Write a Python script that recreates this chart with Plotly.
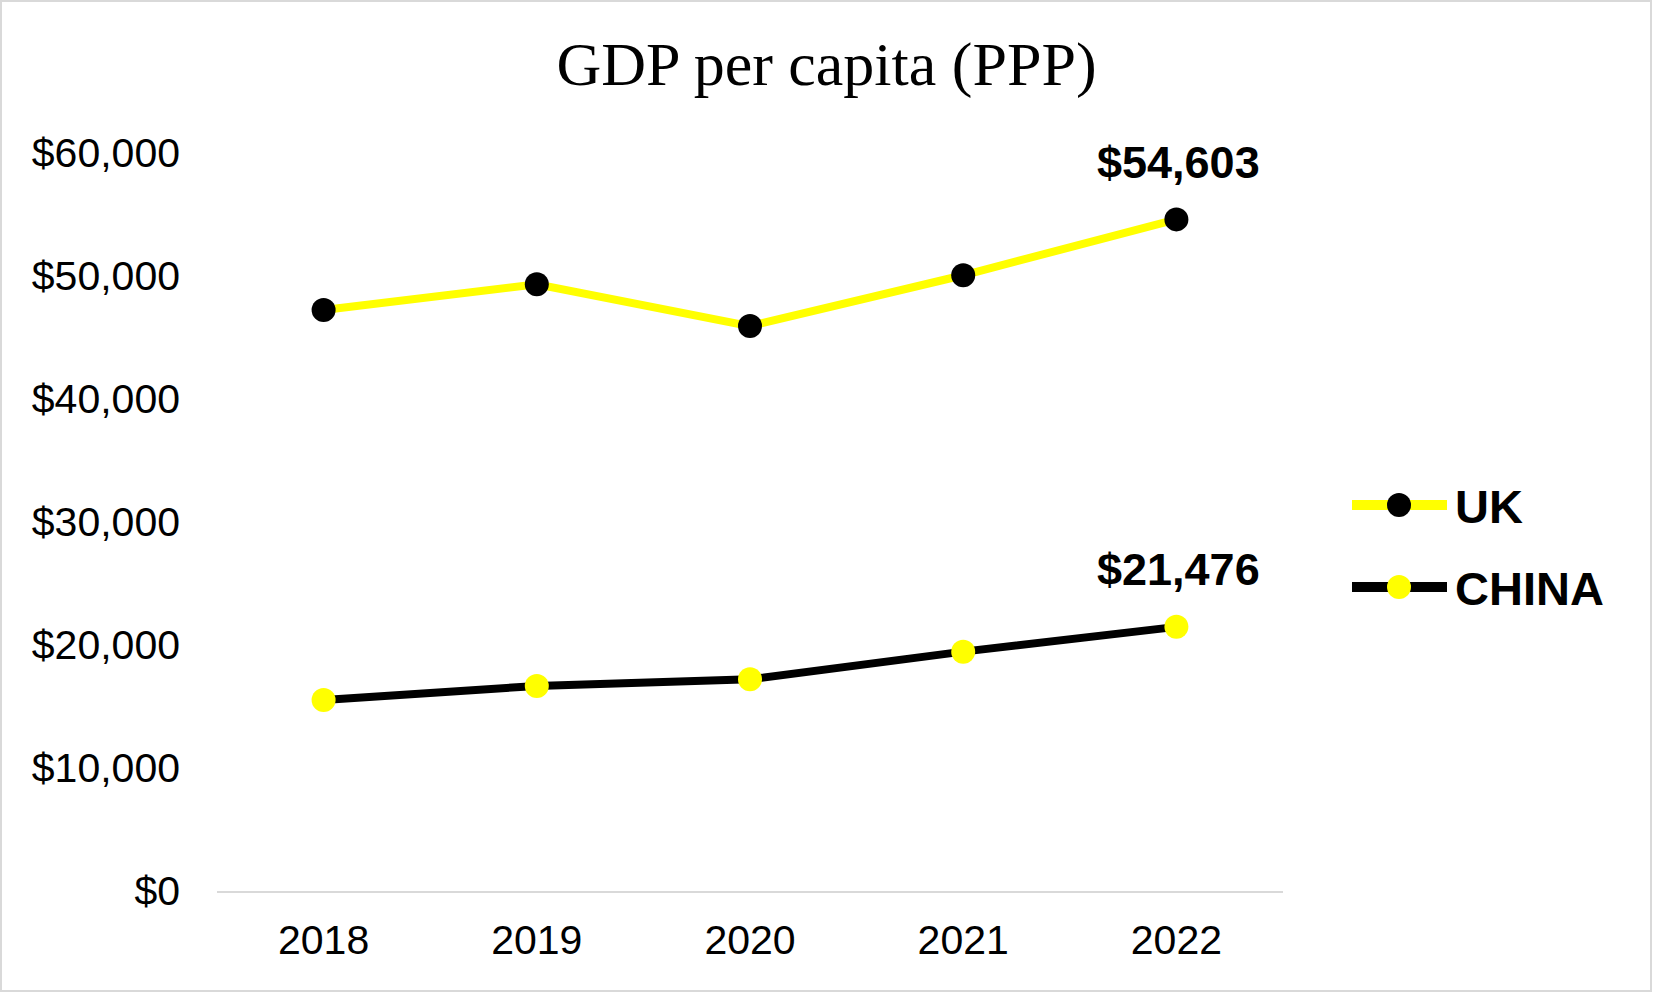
import plotly.graph_objects as go

# ---- data ----
years = ["2018", "2019", "2020", "2021", "2022"]
uk_values = [47240, 49330, 45930, 50060, 54603]
china_values = [15530, 16670, 17210, 19460, 21476]
series_names = ["UK", "CHINA"]
y_ticks = [0, 10000, 20000, 30000, 40000, 50000, 60000]
y_tick_labels = ["$0", "$10,000", "$20,000", "$30,000", "$40,000", "$50,000", "$60,000"]
title_text = "GDP per capita (PPP)"

W, H = 1653, 993
L, R, T, B = 217, 1283, 153, 891  # plot area in pixels

SANS = "Liberation Sans, Arial, sans-serif"
SERIF = "Liberation Serif, Times New Roman, serif"
YELLOW = "#FFFF00"
BLACK = "#000000"


def px_x(px):
    return (px - L) / (R - L)


def px_y(py):
    return (B - py) / (B - T)


fig = go.Figure()
fig.add_trace(go.Scatter(
    x=years, y=uk_values, name=series_names[0], mode="lines+markers",
    line=dict(color=YELLOW, width=8),
    marker=dict(color=BLACK, size=24),
    showlegend=False, cliponaxis=False,
))
fig.add_trace(go.Scatter(
    x=years, y=china_values, name=series_names[1], mode="lines+markers",
    line=dict(color=BLACK, width=8),
    marker=dict(color=YELLOW, size=24),
    showlegend=False, cliponaxis=False,
))

# data labels on last points
last_idx = len(years) - 1
for vals in (uk_values, china_values):
    fig.add_annotation(
        x=last_idx, y=vals[-1], xref="x", yref="y",
        text="<b>$" + f"{vals[-1]:,}" + "</b>", showarrow=False,
        yshift=57, xshift=2,
        font=dict(family=SANS, size=45, color=BLACK),
    )

# custom legend
legend_rows = [
    (series_names[0], YELLOW, BLACK, 505),
    (series_names[1], BLACK, YELLOW, 587),
]
for name, line_col, mark_col, py in legend_rows:
    fig.add_shape(type="line", xref="paper", yref="paper",
                  x0=px_x(1352), x1=px_x(1447), y0=px_y(py), y1=px_y(py),
                  line=dict(color=line_col, width=10))
    fig.add_shape(type="circle", xref="paper", yref="paper",
                  xsizemode="pixel", ysizemode="pixel",
                  xanchor=px_x(1399), yanchor=px_y(py),
                  x0=-12, x1=12, y0=-12, y1=12,
                  fillcolor=mark_col, line=dict(width=0))
    fig.add_annotation(x=px_x(1453), y=px_y(py + 1), xref="paper", yref="paper",
                       xanchor="left", yanchor="middle", showarrow=False,
                       text=f"<b>{name}</b>",
                       font=dict(family=SANS, size=47, color=BLACK))

# outer border
fig.add_shape(type="rect", xref="paper", yref="paper",
              x0=px_x(1), x1=px_x(W - 2), y0=px_y(H - 2), y1=px_y(1),
              line=dict(color="#d9d9d9", width=2), layer="below")

fig.update_layout(
    width=W, height=H,
    margin=dict(l=L, r=W - R, t=T, b=H - B, pad=0),
    paper_bgcolor="white", plot_bgcolor="white",
    title=dict(text=title_text, x=0.5, xref="container", xanchor="center",
               y=1 - 63 / H, yref="container", yanchor="middle",
               font=dict(family=SERIF, size=62, color=BLACK)),
    xaxis=dict(type="category", range=[-0.5, 4.5], showgrid=False,
               showline=True, linecolor="#d9d9d9", linewidth=2,
               ticks="", ticklabelstandoff=12, zeroline=False,
               tickfont=dict(family=SANS, size=41, color=BLACK)),
    yaxis=dict(range=[0, 60000], showgrid=False, zeroline=False,
               showline=False, tickvals=y_ticks, ticktext=y_tick_labels,
               ticks="", ticklabelstandoff=36,
               tickfont=dict(family=SANS, size=41, color=BLACK)),
    showlegend=False,
)

fig.write_html("out.html")
